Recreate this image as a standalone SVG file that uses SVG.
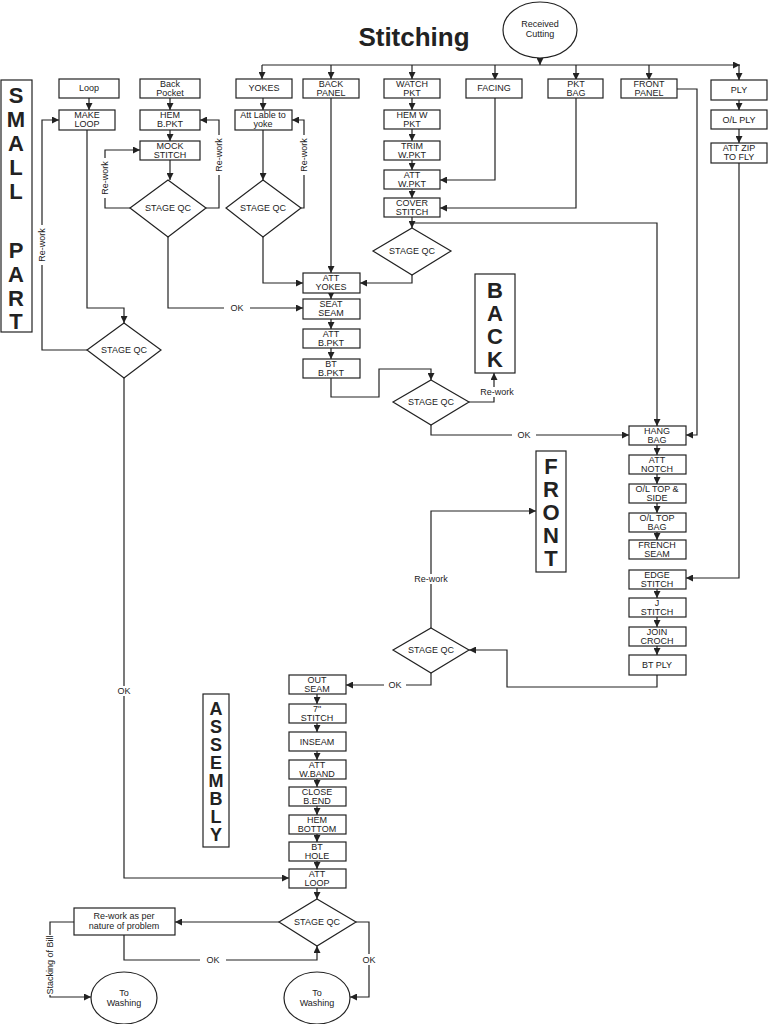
<svg xmlns="http://www.w3.org/2000/svg" width="768" height="1024" viewBox="0 0 768 1024">
<style>
rect,polygon,ellipse{fill:#fff;stroke:#222;stroke-width:1.2}
path{fill:none;stroke:#222;stroke-width:1.2}
text{font-family:"Liberation Sans",Arial,sans-serif;font-size:9px;fill:#222;text-anchor:middle}
.big{font-size:22px;font-weight:bold}
.bg{fill:#fff;stroke:none}
</style>
<defs><marker id="a" viewBox="0 0 10 10" refX="10" refY="5" markerWidth="7" markerHeight="7" orient="auto" markerUnits="userSpaceOnUse"><path d="M0,0L10,5L0,10z" style="fill:#222;stroke:none"/></marker></defs>
<rect width="768" height="1024" style="fill:#fff;stroke:none"/>
<text x="414" y="46" style="font-size:26px;font-weight:bold">Stitching</text>

<g id="connectors" marker-end="url(#a)">
<path d="M540,58V65"/><path d="M262,65H740" />
<path d="M262,65V79"/><path d="M331,65V79"/><path d="M412,65V79"/><path d="M495,65V80"/><path d="M576,65V80"/><path d="M649,65V80"/><path d="M739,65V80"/>
<path d="M89,98V110"/><path d="M170,98V110"/><path d="M170,130V141"/><path d="M170,160V180"/>
<path d="M130,208H105V150H140"/><path d="M206,208H219V120H200"/>
<path d="M168,237V308H303"/>
<path d="M263,98V110"/><path d="M263,130V180"/><path d="M301,208H304V120H292"/><path d="M263,237V283H303"/>
<path d="M331,98V273"/>
<path d="M412,98V110"/><path d="M412,129V141"/><path d="M412,160V170"/><path d="M412,189V198"/><path d="M412,217V228"/>
<path d="M495,98V180H440"/><path d="M576,98V208H440"/>
<path d="M412,223H657V426"/>
<path d="M412,275V283H360"/>
<path d="M331,293V299"/><path d="M331,319V329"/><path d="M331,348V359"/>
<path d="M331,378V397H379V369H431V380"/>
<path d="M469,402H494V373"/>
<path d="M431,425V435H629"/>
<path d="M677,89H697V435H686"/>
<path d="M739,100V110"/><path d="M739,129V143"/><path d="M739,163V578H686"/>
<path d="M657,445V455"/><path d="M657,474V484"/><path d="M657,503V513"/><path d="M657,532V540"/><path d="M657,589V598"/><path d="M657,617V627"/><path d="M657,646V655"/>
<path d="M657,675V687H507V650H469"/>
<path d="M431,628V511H536"/>
<path d="M431,673V685H346"/>
<path d="M317,694V704"/><path d="M317,723V732"/><path d="M317,751V760"/><path d="M317,779V787"/><path d="M317,806V815"/><path d="M317,834V842"/><path d="M317,861V869"/><path d="M317,888V899"/>
<path d="M87,130V308H124V323"/>
<path d="M87,350H42V120H59"/>
<path d="M124,378V878H289"/>
<path d="M279,922H175"/>
<path d="M124,935V960H317V946"/>
<path d="M74,922H50V997H91"/>
<path d="M356,922H369V997H350"/>
</g>
<g id="edge-labels">
<rect class="bg" x="224" y="303" width="26" height="10"/><text x="237" y="311">OK</text>
<rect class="bg" x="512" y="430" width="24" height="10"/><text x="524" y="438">OK</text>
<rect class="bg" x="384" y="680" width="22" height="10"/><text x="395" y="688">OK</text>
<rect class="bg" x="200" y="955" width="26" height="10"/><text x="213" y="963">OK</text>
<rect class="bg" x="360" y="954" width="18" height="11"/><text x="369" y="963">OK</text>
<rect class="bg" x="114" y="686" width="20" height="10"/><text x="124" y="694">OK</text>
<rect class="bg" x="407" y="574" width="48" height="10"/><text x="431" y="582">Re-work</text>
<rect class="bg" x="475" y="387" width="44" height="10"/><text x="497" y="395">Re-work</text>
<rect class="bg" x="100" y="158" width="10" height="40"/><text transform="translate(108,178) rotate(-90)">Re-work</text>
<rect class="bg" x="214" y="135" width="10" height="40"/><text transform="translate(222,155) rotate(-90)">Re-work</text>
<rect class="bg" x="299" y="135" width="10" height="40"/><text transform="translate(307,155) rotate(-90)">Re-work</text>
<rect class="bg" x="37" y="225" width="10" height="40"/><text transform="translate(45,245) rotate(-90)">Re-work</text>
<rect class="bg" x="45" y="935" width="10" height="60"/><text transform="translate(53,965) rotate(-90)">Stacking of Bill</text>
</g>

<g id="received"><ellipse cx="540" cy="30" rx="37" ry="28"/><text x="540" y="27">Received</text><text x="540" y="37">Cutting</text></g>

<g id="small-part"><rect x="1" y="80" width="31" height="252"/>
<text class="big" x="16" y="103">S</text><text class="big" x="16" y="127">M</text><text class="big" x="16" y="151">A</text><text class="big" x="16" y="175">L</text><text class="big" x="16" y="199">L</text><text class="big" x="16" y="258">P</text><text class="big" x="16" y="282">A</text><text class="big" x="16" y="306">R</text><text class="big" x="16" y="329">T</text></g>
<g id="back"><rect x="475" y="274" width="40" height="99"/><text class="big" x="495" y="298">B</text><text class="big" x="495" y="321">A</text><text class="big" x="495" y="344">C</text><text class="big" x="495" y="367">K</text></g>
<g id="front"><rect x="536" y="451" width="30" height="121"/><text class="big" x="551" y="474">F</text><text class="big" x="551" y="497">R</text><text class="big" x="551" y="520">O</text><text class="big" x="551" y="543">N</text><text class="big" x="551" y="566">T</text></g>
<g id="assembly"><rect x="203" y="694" width="26" height="153"/>
<text x="216" y="715" style="font-size:18px;font-weight:bold">A</text><text x="216" y="733" style="font-size:18px;font-weight:bold">S</text><text x="216" y="751" style="font-size:18px;font-weight:bold">S</text><text x="216" y="769" style="font-size:18px;font-weight:bold">E</text><text x="216" y="787" style="font-size:18px;font-weight:bold">M</text><text x="216" y="805" style="font-size:18px;font-weight:bold">B</text><text x="216" y="823" style="font-size:18px;font-weight:bold">L</text><text x="216" y="841" style="font-size:18px;font-weight:bold">Y</text></g>

<g id="loop"><rect x="59" y="79" width="60" height="19"/><text x="89" y="91">Loop</text></g>
<g id="back-pocket"><rect x="140" y="79" width="60" height="19"/><text x="170" y="87">Back</text><text x="170" y="96">Pocket</text></g>
<g id="yokes"><rect x="236" y="79" width="56" height="19"/><text x="264" y="91">YOKES</text></g>
<g id="back-panel"><rect x="303" y="79" width="56" height="19"/><text x="331" y="87">BACK</text><text x="331" y="96">PANEL</text></g>
<g id="watch-pkt"><rect x="384" y="79" width="56" height="19"/><text x="412" y="87">WATCH</text><text x="412" y="96">PKT</text></g>
<g id="facing"><rect x="466" y="79" width="56" height="19"/><text x="494" y="91">FACING</text></g>
<g id="pkt-bag"><rect x="548" y="79" width="55" height="19"/><text x="576" y="87">PKT</text><text x="576" y="96">BAG</text></g>
<g id="front-panel"><rect x="621" y="79" width="56" height="19"/><text x="649" y="87">FRONT</text><text x="649" y="96">PANEL</text></g>
<g id="ply"><rect x="711" y="80" width="56" height="20"/><text x="739" y="93">PLY</text></g>
<g id="ol-ply"><rect x="711" y="110" width="56" height="19"/><text x="739" y="123">O/L PLY</text></g>
<g id="att-zip"><rect x="711" y="143" width="56" height="20"/><text x="739" y="151">ATT ZIP</text><text x="739" y="160">TO FLY</text></g>

<g id="make-loop"><rect x="59" y="110" width="56" height="20"/><text x="87" y="118">MAKE</text><text x="87" y="127">LOOP</text></g>
<g id="hem-bpkt"><rect x="140" y="110" width="60" height="20"/><text x="170" y="118">HEM</text><text x="170" y="127">B.PKT</text></g>
<g id="mock"><rect x="140" y="141" width="60" height="19"/><text x="170" y="149">MOCK</text><text x="170" y="158">STITCH</text></g>
<g id="att-lable"><rect x="235" y="110" width="57" height="20"/><text x="263" y="118">Att Lable to</text><text x="263" y="127">yoke</text></g>
<g id="hem-w"><rect x="384" y="110" width="56" height="19"/><text x="412" y="118">HEM W</text><text x="412" y="127">PKT</text></g>
<g id="trim"><rect x="384" y="141" width="56" height="19"/><text x="412" y="149">TRIM</text><text x="412" y="158">W.PKT</text></g>
<g id="att-wpkt"><rect x="384" y="170" width="56" height="19"/><text x="412" y="178">ATT</text><text x="412" y="187">W.PKT</text></g>
<g id="cover"><rect x="384" y="198" width="56" height="19"/><text x="412" y="206">COVER</text><text x="412" y="215">STITCH</text></g>

<g id="qc1"><polygon points="168,180 206,208 168,237 130,208"/><text x="168" y="211">STAGE QC</text></g>
<g id="qc2"><polygon points="263,180 301,208 263,237 226,208"/><text x="263" y="211">STAGE QC</text></g>
<g id="qc3"><polygon points="412,228 451,251 412,275 373,251"/><text x="412" y="254">STAGE QC</text></g>
<g id="qc-small"><polygon points="124,323 161,350 124,378 87,350"/><text x="124" y="353">STAGE QC</text></g>
<g id="qc-back"><polygon points="431,380 469,402 431,425 393,402"/><text x="431" y="405">STAGE QC</text></g>
<g id="qc-front"><polygon points="431,628 469,650 431,673 393,650"/><text x="431" y="653">STAGE QC</text></g>
<g id="qc-final"><polygon points="317,899 356,922 317,946 279,922"/><text x="317" y="925">STAGE QC</text></g>

<g id="att-yokes"><rect x="303" y="273" width="57" height="20"/><text x="331" y="281">ATT</text><text x="331" y="290">YOKES</text></g>
<g id="seat"><rect x="303" y="299" width="57" height="20"/><text x="331" y="307">SEAT</text><text x="331" y="316">SEAM</text></g>
<g id="att-bpkt"><rect x="303" y="329" width="57" height="19"/><text x="331" y="337">ATT</text><text x="331" y="346">B.PKT</text></g>
<g id="bt-bpkt"><rect x="303" y="359" width="57" height="19"/><text x="331" y="367">BT</text><text x="331" y="376">B.PKT</text></g>

<g id="hang"><rect x="629" y="426" width="57" height="19"/><text x="657" y="434">HANG</text><text x="657" y="443">BAG</text></g>
<g id="notch"><rect x="629" y="455" width="57" height="19"/><text x="657" y="463">ATT</text><text x="657" y="472">NOTCH</text></g>
<g id="ol-side"><rect x="629" y="484" width="57" height="19"/><text x="657" y="492">O/L TOP &amp;</text><text x="657" y="501">SIDE</text></g>
<g id="ol-bag"><rect x="629" y="513" width="57" height="19"/><text x="657" y="521">O/L TOP</text><text x="657" y="530">BAG</text></g>
<g id="french"><rect x="629" y="540" width="57" height="19"/><text x="657" y="548">FRENCH</text><text x="657" y="557">SEAM</text></g>
<g id="edge"><rect x="629" y="570" width="57" height="19"/><text x="657" y="578">EDGE</text><text x="657" y="587">STITCH</text></g>
<g id="j"><rect x="629" y="598" width="57" height="19"/><text x="657" y="606">J</text><text x="657" y="615">STITCH</text></g>
<g id="join"><rect x="629" y="627" width="57" height="19"/><text x="657" y="635">JOIN</text><text x="657" y="644">CROCH</text></g>
<g id="btply"><rect x="629" y="655" width="57" height="20"/><text x="657" y="668">BT PLY</text></g>

<g id="outseam"><rect x="289" y="675" width="57" height="19"/><text x="317" y="683">OUT</text><text x="317" y="692">SEAM</text></g>
<g id="s7"><rect x="289" y="704" width="57" height="19"/><text x="317" y="712">7"</text><text x="317" y="721">STITCH</text></g>
<g id="inseam"><rect x="289" y="732" width="57" height="19"/><text x="317" y="745">INSEAM</text></g>
<g id="wband"><rect x="289" y="760" width="57" height="19"/><text x="317" y="768">ATT</text><text x="317" y="777">W.BAND</text></g>
<g id="close"><rect x="289" y="787" width="57" height="19"/><text x="317" y="795">CLOSE</text><text x="317" y="804">B.END</text></g>
<g id="hem-bottom"><rect x="289" y="815" width="57" height="19"/><text x="317" y="823">HEM</text><text x="317" y="832">BOTTOM</text></g>
<g id="bthole"><rect x="289" y="842" width="57" height="19"/><text x="317" y="850">BT</text><text x="317" y="859">HOLE</text></g>
<g id="att-loop"><rect x="289" y="869" width="57" height="19"/><text x="317" y="877">ATT</text><text x="317" y="886">LOOP</text></g>

<g id="rework-box"><rect x="74" y="908" width="101" height="27"/><text x="124" y="919">Re-work as per</text><text x="124" y="929">nature of problem</text></g>
<g id="wash1"><ellipse cx="124" cy="998" rx="33" ry="26"/><text x="124" y="996">To</text><text x="124" y="1006">Washing</text></g>
<g id="wash2"><ellipse cx="317" cy="998" rx="33" ry="26"/><text x="317" y="996">To</text><text x="317" y="1006">Washing</text></g>
</svg>
